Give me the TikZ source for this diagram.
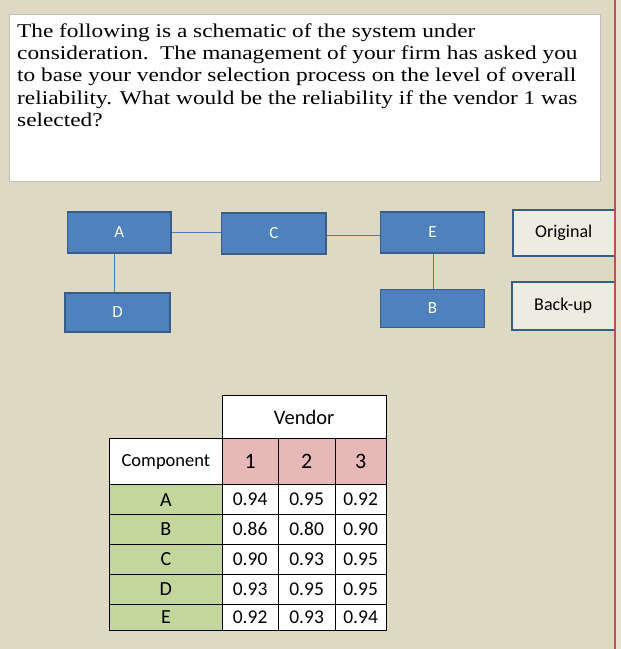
\documentclass[tikz,border=0pt]{standalone}
\usepackage{fontspec}
\setmainfont{Liberation Serif}
\newfontfamily\qfont[FakeStretch=1.195]{Liberation Serif}
\newfontfamily\calibri{Carlito}
\definecolor{bg}{HTML}{DDD9C3}
\definecolor{strip}{HTML}{E6E2D2}
\definecolor{redline}{HTML}{C0504D}
\definecolor{qborder}{HTML}{BFBFBF}
\definecolor{compblue}{HTML}{4F81BD}
\definecolor{compborder}{HTML}{385D8A}
\definecolor{legfill}{HTML}{EEECE1}
\definecolor{pinkhead}{HTML}{E6B8B7}
\definecolor{greencol}{HTML}{C3D69B}
\definecolor{linkblue}{HTML}{4A7EBB}
\begin{document}
\begin{tikzpicture}[x=1pt,y=-1pt,
  comp/.style={draw=compborder,fill=compblue,line width=1.5pt,text=white,inner sep=0pt,
    font=\calibri\fontsize{17}{20}\selectfont},
  legend/.style={draw=compborder,fill=legfill,line width=1.5pt,text=black,inner sep=0pt,
    font=\calibri\fontsize{18}{21}\selectfont},
  link/.style={draw=linkblue,line width=0.8pt},
  cell/.style={draw=black,line width=0.8pt,inner sep=0pt,anchor=north west,fill=white,
    font=\calibri\fontsize{19.5}{22}\selectfont},
]
\fill[bg] (0,0) rectangle (621,649);
\useasboundingbox (0,0) rectangle (621,649);
\fill[strip] (616,0) rectangle (621,649);

% question box
\node[draw=qborder,fill=white,line width=0.8pt,anchor=north west,minimum width=591pt,minimum height=167pt,inner sep=0pt] (qbox) at (9,14) {};
\node[anchor=north west,align=left,inner sep=0pt,font=\qfont\fontsize{19.5}{22.2}\selectfont] (qtext) at (17,23.5)
{The following is a schematic of the system under\\
consideration.\ \ The management of your firm has asked you\\
to base your vendor selection process on the level of overall\\
reliability. What would be the reliability if the vendor 1 was\\
selected?};

% components
\node[comp,minimum width=103.5pt,minimum height=41pt] (A) at (119.3,232.3) {A};
\node[comp,minimum width=104.5pt,minimum height=41pt] (C) at (273.8,233.3) {C};
\node[comp,minimum width=103.7pt,minimum height=41pt] (E) at (432.5,232.5) {E};
\node[comp,minimum width=105pt,minimum height=39pt] (D) at (117.7,312.3) {D};
\node[comp,minimum width=103.7pt,minimum height=38pt] (B) at (432.5,308.3) {B};
\node[legend,minimum width=101.6pt,minimum height=46pt] (orig) at (563.7,232.8) {Original};
\node[legend,minimum width=102.7pt,minimum height=48pt] (back) at (563.2,305.8) {Back-up};

\draw[link] (A.east) -- (A.east -| C.west);
\draw[link] ([yshift=-2pt]C.east) -- ([yshift=-2pt]C.east -| E.west);
\draw[link] ([xshift=-4.5pt]A.south) -- ([xshift=-4.5pt]A.south |- D.north);
\draw[link] ([xshift=1pt]E.south) -- ([xshift=1pt]E.south |- B.north);

% table
\node[cell,minimum width=164pt,minimum height=43.3pt,font=\calibri\fontsize{20.5}{23}\selectfont] (vendor) at (221.7,395) {Vendor};
\node[cell,minimum width=112.4pt,minimum height=46pt,font=\calibri\fontsize{18.5}{21}\selectfont] (component) at (109.3,438.3) {Component};
\node[cell,fill=pinkhead,minimum width=56pt,minimum height=46pt,font=\calibri\fontsize{22}{24}\selectfont] (v1) at (221.7,438.3) {1};
\node[cell,fill=pinkhead,minimum width=57pt,minimum height=46pt,font=\calibri\fontsize{22}{24}\selectfont] (v2) at (277.7,438.3) {2};
\node[cell,fill=pinkhead,minimum width=51pt,minimum height=46pt,font=\calibri\fontsize{22}{24}\selectfont] (v3) at (334.7,438.3) {3};

\foreach \r/\y/\h/\a/\b/\c in {A/484.3/30/0.94/0.95/0.92, B/514.3/29.4/0.86/0.80/0.90, C/543.7/30/0.90/0.93/0.95, D/573.7/30/0.93/0.95/0.95, E/603.7/26.3/0.92/0.93/0.94}{
  \node[cell,fill=greencol,minimum width=112.4pt,minimum height=\h pt,font=\calibri\fontsize{20}{22}\selectfont] (row\r) at (109.3,\y) {\r};
  \node[cell,minimum width=56pt,minimum height=\h pt] (row\r1) at (221.7,\y) {\a};
  \node[cell,minimum width=57pt,minimum height=\h pt] (row\r2) at (277.7,\y) {\b};
  \node[cell,minimum width=51pt,minimum height=\h pt] (row\r3) at (334.7,\y) {\c};
}

\draw[redline,line width=2.2pt] (614.6,0) -- (614.6,649);
\end{tikzpicture}
\end{document}
